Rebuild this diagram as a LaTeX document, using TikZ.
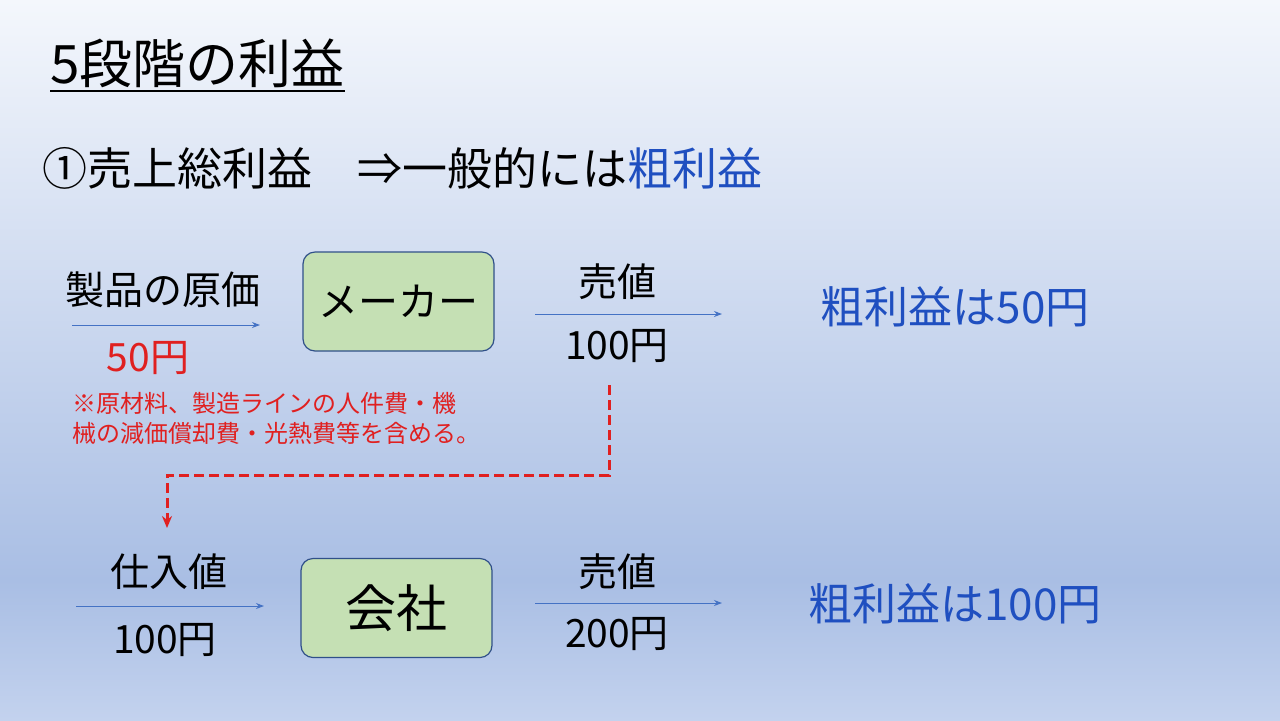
\documentclass[tikz,border=0pt]{standalone}
\usepackage{fontspec}
\setmainfont{Noto Sans CJK JP}
\usetikzlibrary{arrows.meta}
\definecolor{bgtop}{HTML}{F4F7FC}
\definecolor{bgmid}{HTML}{A9BEE4}
\definecolor{bgbot}{HTML}{C3D2EE}
\definecolor{ablue}{HTML}{4472C4}
\definecolor{tblue}{HTML}{1F4FC0}
\definecolor{tred}{HTML}{E02020}
\definecolor{boxg}{HTML}{C5E0B4}
\tikzset{
  flow/.style={ablue,line width=0.5pt,-{Stealth[length=4pt,width=3pt]}},
  lbl/.style={font=\fontsize{19.5}{22}\selectfont,anchor=center,inner sep=0},
  bigblue/.style={font=\fontsize{22}{26}\selectfont,text=tblue,anchor=center,inner sep=0},
  gbox/.style={draw=ablue!70!black,fill=boxg,rounded corners=6pt,line width=0.6pt,minimum width=95.5pt,minimum height=49.5pt,inner sep=0}
}
\begin{document}
\begin{tikzpicture}[x=0.5pt,y=-0.5pt]
\shade[top color=bgtop,bottom color=bgmid,shading angle=0] (0,0) rectangle (1280,580);
\shade[top color=bgmid,bottom color=bgbot] (0,580) rectangle (1280,720);
\useasboundingbox (0,0) rectangle (1280,720);
\node[anchor=west,inner sep=0,font=\fontsize{26.5}{30}\selectfont] (title) at (50,63) {5段階の利益};
\draw[line width=0.8pt] (50,91) -- (345,91);
\node[anchor=west,inner sep=0,font=\fontsize{22.5}{26}\selectfont] (h1) at (42,168) {①売上総利益\hspace{1em}⇒一般的には\textcolor{tblue}{粗利益}};
% row 1
\node[lbl] (cost) at (163,290) {製品の原価};
\coordinate (a1s) at (72,325); \coordinate (a1e) at (260,325);
\draw[flow] (a1s) -- (a1e);
\node[lbl,text=tred] (c50) at (148,358) {50円};
\node[anchor=north west,inner sep=0,text=tred,font=\fontsize{12}{15}\selectfont,align=left] (note) at (72,392) {※原材料、製造ラインの人件費・機\\械の減価償却費・光熱費等を含める。};
\node[gbox,font=\fontsize{20}{22}\selectfont] (maker) at (398.5,301.5) {メーカー};
\node[lbl] (uri1) at (617,282) {売値};
\coordinate (b1s) at (535,314); \coordinate (b1e) at (722,314);
\draw[flow] (b1s) -- (b1e);
\node[lbl] (p100) at (617,346) {100円};
\node[bigblue] (g50) at (955,307) {粗利益は50円};
% dashed
\coordinate (d0) at (609,385); \coordinate (d3) at (167,528);
\draw[tred,line width=1.5pt,dash pattern=on 5pt off 2.5pt,-{Stealth[length=6pt,width=5pt]}] (d0) -- (609,475) -- (167,475) -- (d3);
% row 2
\node[lbl] (shi) at (169,572) {仕入値};
\coordinate (a2s) at (76,606); \coordinate (a2e) at (264,606);
\draw[flow] (a2s) -- (a2e);
\node[lbl] (q100) at (165,640) {100円};
\node[gbox,font=\fontsize{25.5}{28}\selectfont] (comp) at (396.5,608) {会社};
\node[lbl] (uri2) at (617,572) {売値};
\coordinate (b2s) at (535,603); \coordinate (b2e) at (722,603);
\draw[flow] (b2s) -- (b2e);
\node[lbl] (p200) at (617,634) {200円};
\node[bigblue] (g100) at (955,604) {粗利益は100円};
\end{tikzpicture}
\end{document}
